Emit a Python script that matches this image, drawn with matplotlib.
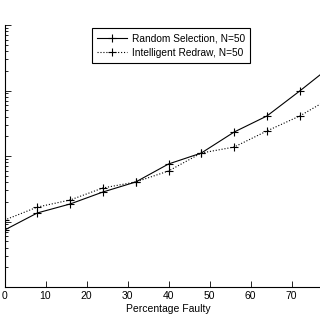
import numpy as np
import matplotlib
matplotlib.use('Agg')
import matplotlib.pyplot as plt

# data (log y axis, values per decade)
faulty = [0, 8, 16, 24, 32, 40, 48, 56, 64, 72, 80]
random_sel = [7.4, 13.5, 18.5, 28.2, 40.1, 75.5, 111, 232, 408, 982, 2450]
intel_redraw = [10.5, 16.6, 21.3, 32.5, 40.1, 59, 111, 137, 241, 408, 796]
xticks = [0, 10, 20, 30, 40, 50, 60, 70]

plt.rcParams['font.family'] = ['Liberation Sans', 'DejaVu Sans']
plt.rcParams['font.size'] = 7.5

fig = plt.figure(figsize=(3.2, 3.2), dpi=100)
W = 320.0
ax = fig.add_axes([4.5 / W, 1 - 287 / W, 328 / W, 262 / W])

ax.plot(faulty, random_sel, '-', color='black', lw=0.8, marker='+', ms=6, mew=0.8,
        label='Random Selection, N=50')
ax.plot(faulty, intel_redraw, ':', color='black', lw=0.8, marker='+', ms=6, mew=0.8,
        label='Intelligent Redraw, N=50')

ax.set_yscale('log')
ax.set_ylim(1, 1e4)
ax.set_xlim(0, 80)
ax.set_xticks(xticks)
ax.set_xlabel('Percentage Faulty', labelpad=2)

# matlab look: ticks inside, no top/right box; y labels sit off the crop
ax.spines['top'].set_visible(False)
ax.spines['right'].set_visible(False)
for s in ['left', 'bottom']:
    ax.spines[s].set_linewidth(0.8)
ax.tick_params(which='both', direction='in', width=0.6)
ax.tick_params(which='major', length=4)
ax.tick_params(which='minor', length=2)
ax.tick_params(axis='x', pad=3)
ax.tick_params(axis='y', which='both', labelleft=False)

leg = ax.legend(loc='upper left', bbox_to_anchor=(92 / W, 1 - 28 / W),
                bbox_transform=fig.transFigure, borderaxespad=0, fancybox=False,
                framealpha=1, edgecolor='black', handlelength=3.0, borderpad=0.5,
                labelspacing=0.45, handletextpad=0.4, fontsize=7.3)
leg.get_frame().set_linewidth(0.8)

fig.savefig('out.png', dpi=100)
